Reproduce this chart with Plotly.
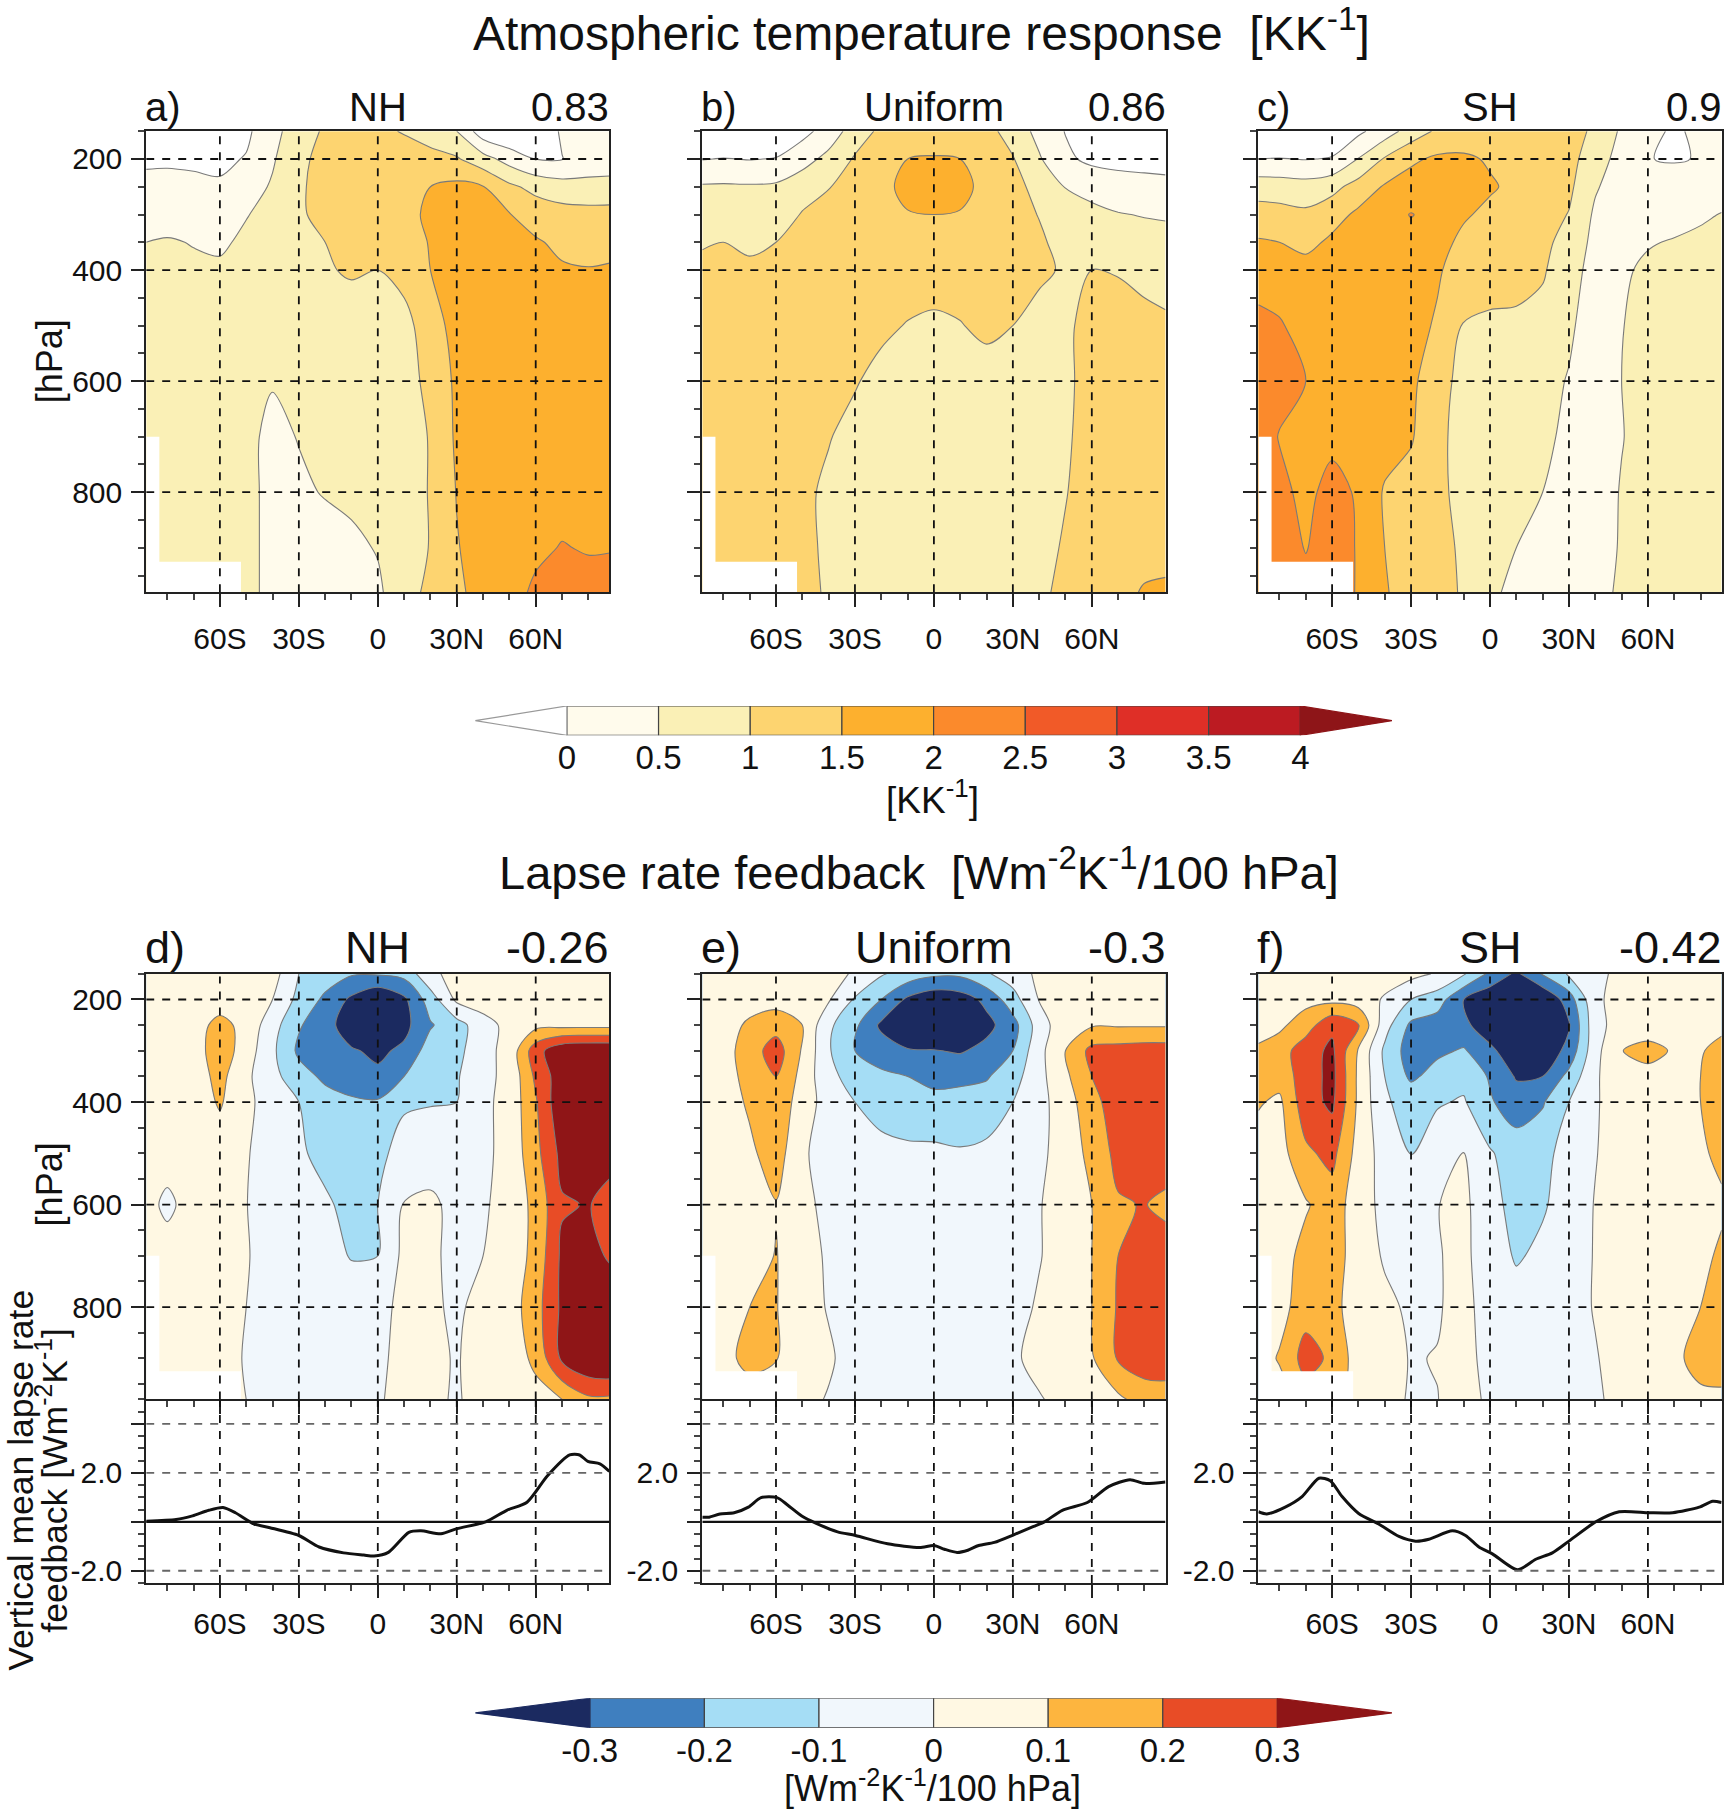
import plotly.graph_objects as go

W, H = 1725, 1813
FONT = "Liberation Sans"

LATS = [-88, -80, -70, -60, -50, -40, -30, -20, -10, 0, 10, 20, 30, 40, 50, 60, 70, 80, 88]
PRES = [150, 200, 250, 300, 350, 400, 500, 600, 700, 800, 900, 980]

TEMP_NH = [
    [-.6, -.6, -.5, -.35, -.1, .35, .75, 1.07, 1.2, 1.15, .95, .72, .5, -.3, -.5, -.3, .05, .2, .25],
    [-.12, -.1, -.12, -.1, .03, .45, .85, 1.2, 1.35, 1.4, 1.35, 1.2, 1.05, .7, .3, -.01, -.01, .12, .15],
    [.2, .2, .15, .06, .3, .55, .92, 1.2, 1.35, 1.4, 1.45, 1.5, 1.62, 1.52, 1.1, .85, .7, .7, .72],
    [.2, .2, .2, .3, .47, .7, .93, 1.15, 1.3, 1.35, 1.42, 1.55, 1.75, 1.7, 1.52, 1.3, 1.2, 1.15, 1.15],
    [.5, .56, .47, .4, .62, .78, .85, 1.0, 1.15, 1.2, 1.35, 1.52, 1.8, 1.85, 1.7, 1.55, 1.4, 1.35, 1.35],
    [.6, .65, .62, .6, .7, .8, .88, .95, 1.06, 1.0, 1.15, 1.5, 1.8, 1.9, 1.85, 1.65, 1.55, 1.52, 1.55],
    [.72, .72, .72, .72, .72, .72, .72, .72, .72, .72, .85, 1.25, 1.7, 1.85, 1.85, 1.8, 1.75, 1.75, 1.75],
    [.7, .7, .68, .65, .6, .53, .62, .7, .72, .78, .85, 1.1, 1.6, 1.8, 1.85, 1.85, 1.8, 1.78, 1.78],
    [.7, .68, .65, .62, .62, .38, .52, .62, .68, .72, .85, 1.02, 1.58, 1.78, 1.85, 1.85, 1.85, 1.85, 1.85],
    [.7, .68, .65, .62, .62, .38, .42, .53, .6, .68, .85, 1.02, 1.52, 1.75, 1.85, 1.85, 1.85, 1.85, 1.85],
    [.7, .68, .65, .62, .62, .38, .3, .3, .4, .53, .78, 1.02, 1.47, 1.72, 1.85, 1.92, 2.02, 1.97, 1.98],
    [.7, .68, .65, .62, .62, .38, .3, .3, .3, .42, .8, 1.12, 1.42, 1.65, 1.85, 2.07, 2.2, 2.15, 2.15],
]

TEMP_UNIFORM = [
    [-.6, -.6, -.5, -.35, -.15, .2, .75, 1.1, 1.3, 1.35, 1.3, 1.15, .8, .35, -.02, -.3, -.4, -.4, -.4],
    [-.02, .02, -.02, .02, .3, .65, 1.05, 1.3, 1.5, 1.52, 1.5, 1.3, 1.03, .55, .1, -.12, -.2, -.2, -.2],
    [.55, .56, .55, .58, .8, .98, 1.2, 1.4, 1.6, 1.65, 1.6, 1.4, 1.15, .85, .48, .37, .28, .2, .15],
    [.75, .77, .72, .75, 1.03, 1.15, 1.25, 1.35, 1.48, 1.5, 1.48, 1.35, 1.2, .98, .78, .6, .52, .48, .47],
    [.97, 1.0, .93, 1.0, 1.15, 1.25, 1.3, 1.3, 1.3, 1.35, 1.3, 1.25, 1.2, 1.08, .82, .72, .68, .65, .6],
    [1.08, 1.1, 1.07, 1.1, 1.2, 1.25, 1.3, 1.25, 1.2, 1.2, 1.2, 1.2, 1.15, 1.08, .95, 1.0, .97, .85, .8],
    [1.2, 1.2, 1.2, 1.2, 1.2, 1.2, 1.15, 1.08, .98, .92, .98, 1.1, 1.0, .85, .92, 1.15, 1.2, 1.15, 1.08],
    [1.25, 1.25, 1.25, 1.2, 1.15, 1.08, 1.03, .88, .8, .8, .8, .8, .8, .82, .92, 1.15, 1.25, 1.28, 1.3],
    [1.3, 1.3, 1.28, 1.2, 1.12, 1.02, .88, .8, .8, .8, .8, .8, .8, .85, .93, 1.2, 1.3, 1.3, 1.32],
    [1.3, 1.3, 1.28, 1.2, 1.08, .93, .8, .78, .78, .78, .78, .78, .78, .82, .98, 1.2, 1.3, 1.32, 1.32],
    [1.35, 1.35, 1.3, 1.22, 1.1, .93, .8, .78, .78, .78, .78, .78, .8, .85, 1.05, 1.2, 1.32, 1.38, 1.4],
    [1.35, 1.35, 1.3, 1.22, 1.12, .95, .8, .78, .78, .78, .78, .78, .8, .92, 1.1, 1.25, 1.4, 1.53, 1.55],
]

TEMP_SH = [
    [-.6, -.6, -.5, -.3, -.1, .25, .72, 1.08, 1.2, 1.3, 1.3, 1.25, 1.15, .93, .42, .2, -.1, .15, .2],
    [0.0, .02, -.02, .03, .52, 1.05, 1.42, 1.58, 1.58, 1.45, 1.38, 1.3, 1.15, .75, .3, .01, -.03, .02, .12],
    [.78, .75, .7, .85, 1.2, 1.55, 1.7, 1.75, 1.8, 1.55, 1.4, 1.3, 1.1, .55, .25, .2, .18, .2, .25],
    [1.2, 1.17, 1.1, 1.3, 1.6, 1.8, 2.02, 1.85, 1.55, 1.4, 1.3, 1.2, .98, .42, .25, .2, .25, .42, .52],
    [1.55, 1.5, 1.35, 1.6, 1.75, 1.85, 1.85, 1.65, 1.4, 1.3, 1.2, 1.1, .85, .35, .15, .45, .55, .62, .7],
    [1.75, 1.72, 1.7, 1.78, 1.85, 1.88, 1.8, 1.55, 1.3, 1.25, 1.15, 1.05, .72, .3, .4, .62, .7, .75, .8],
    [2.15, 2.05, 1.8, 1.75, 1.75, 1.75, 1.65, 1.45, .97, .9, .92, .85, .58, .25, .48, .68, .72, .75, .78],
    [2.3, 2.2, 2.0, 1.8, 1.75, 1.7, 1.62, 1.15, .88, .82, .75, .65, .47, .25, .5, .68, .72, .75, .78],
    [2.3, 1.97, 1.85, 1.85, 1.8, 1.7, 1.55, 1.1, .85, .78, .7, .6, .4, .25, .48, .68, .72, .75, .78],
    [2.3, 2.15, 1.85, 2.2, 1.93, 1.45, 1.3, 1.1, .87, .78, .68, .5, .25, .27, .53, .68, .72, .75, .78],
    [2.3, 2.3, 1.97, 2.3, 1.95, 1.5, 1.25, 1.1, .95, .72, .5, .2, .15, .25, .55, .7, .75, .75, .78],
    [2.3, 2.3, 2.2, 2.3, 1.95, 1.55, 1.25, 1.1, .97, .65, .3, .15, .15, .3, .6, .7, .75, .75, .78],
]

LAPSE_NH = [
    [.05, .05, .05, .05, .05, .04, -.1, -.15, -.19, -.19, -.17, -.02, .03, .05, .05, .04, .05, .05, .05],
    [.05, .05, .05, .05, .06, .0, -.13, -.22, -.32, -.4, -.32, -.15, .02, .05, .05, .05, .05, .05, .05],
    [.05, .05, .06, .13, .07, -.06, -.19, -.26, -.36, -.42, -.33, -.21, -.14, -.04, .03, .07, .07, .07, .07],
    [.05, .05, .05, .16, .05, -.08, -.22, -.26, -.29, -.32, -.28, -.15, -.13, -.03, .03, .26, .38, .4, .4],
    [.05, .05, .05, .13, .02, -.07, -.16, -.22, -.27, -.28, -.2, -.13, -.11, -.02, .02, .22, .36, .42, .42],
    [.05, .05, .05, .11, .03, -.06, -.1, -.16, -.18, -.19, -.11, -.105, -.1, -.02, .03, .19, .38, .42, .42],
    [.05, .04, .05, .05, .01, -.06, -.09, -.12, -.14, -.12, -.07, -.05, -.04, -.02, .03, .17, .33, .38, .33],
    [.03, -.02, .04, .05, .002, -.04, -.06, -.09, -.12, -.1, .005, .02, -.03, -.01, .03, .13, .29, .305, .27],
    [.05, .04, .05, .05, .005, -.03, -.05, -.07, -.105, -.1, .025, .02, -.03, .0, .04, .13, .32, .36, .28],
    [.05, .03, .05, .05, .0, -.03, -.05, -.05, -.05, -.03, .025, .01, -.01, .02, .05, .16, .32, .4, .42],
    [.05, .03, .05, .05, -.01, -.03, -.04, -.04, -.04, -.02, .03, .015, -.005, .03, .05, .12, .32, .4, .42],
    [.05, .03, .05, .05, .0, -.03, -.04, -.04, -.04, -.01, .03, .01, -.005, .02, .04, .07, .1, .18, .18],
]

LAPSE_UNIFORM = [
    [.05, .05, .05, .05, .05, .03, -.01, -.09, -.14, -.18, -.18, -.11, -.05, .02, .05, .05, .05, .05, .05],
    [.05, .05, .05, .06, .05, .01, -.11, -.2, -.32, -.37, -.35, -.275, -.14, .005, .05, .05, .05, .05, .05],
    [.05, .05, .12, .16, .1, -.08, -.18, -.32, -.4, -.42, -.4, -.33, -.24, -.05, .07, .09, .09, .09, .09],
    [.05, .06, .15, .25, .09, -.09, -.2, -.25, -.29, -.295, -.31, -.27, -.2, -.03, .1, .23, .24, .25, .25],
    [.05, .05, .14, .2, .07, -.08, -.13, -.18, -.2, -.23, -.22, -.21, -.14, -.03, .08, .2, .24, .25, .25],
    [.05, .05, .115, .16, .06, -.05, -.1, -.14, -.16, -.17, -.17, -.15, -.1, -.03, .05, .17, .25, .27, .27],
    [.05, .05, .08, .15, .01, -.03, -.06, -.07, -.08, -.08, -.09, -.08, -.06, -.02, .04, .13, .23, .27, .27],
    [.05, .05, .05, .095, .02, -.02, -.05, -.05, -.05, -.05, -.05, -.05, -.04, -.005, .04, .1, .19, .205, .17],
    [.05, .05, .05, .105, .03, -.01, -.05, -.05, -.05, -.05, -.05, -.05, -.04, -.005, .04, .1, .2, .26, .26],
    [.05, .05, .1, .105, .03, -.005, -.05, -.05, -.05, -.05, -.05, -.05, -.03, .01, .05, .1, .21, .26, .26],
    [.05, .07, .13, .105, .03, .01, -.03, -.05, -.05, -.05, -.05, -.05, -.01, .02, .05, .09, .21, .26, .26],
    [.05, .05, .05, .05, .02, -.005, -.04, -.05, -.05, -.05, -.05, -.05, -.04, -.005, .02, .05, .08, .14, .15],
]

LAPSE_SH = [
    [.05, .05, .05, .05, .05, .04, .03, -.01, -.09, -.22, -.32, -.19, -.09, -.03, .03, .05, .05, .05, .05],
    [.05, .05, .07, .07, .05, -.01, -.1, -.15, -.3, -.38, -.42, -.4, -.25, -.015, .03, .05, .05, .05, .05],
    [.05, .08, .15, .28, .205, -.06, -.22, -.25, -.27, -.38, -.45, -.45, -.31, -.03, .04, .05, .05, .06, .07],
    [.12, .15, .26, .32, .09, -.12, -.25, -.22, -.19, -.27, -.39, -.37, -.27, -.03, .098, .13, .09, .09, .14],
    [.12, .14, .25, .33, .08, -.1, -.22, -.16, -.13, -.21, -.31, -.3, -.17, -.01, .05, .07, .06, .1, .14],
    [.11, .08, .26, .32, .08, -.09, -.13, -.11, -.09, -.19, -.25, -.21, -.1, -.01, .05, .05, .05, .1, .14],
    [.05, .06, .18, .23, .06, -.04, -.105, -.04, .005, -.09, -.15, -.13, -.06, -.005, .05, .05, .05, .08, .13],
    [.05, .06, .09, .15, .05, -.03, -.05, -.002, .02, -.06, -.14, -.11, -.06, .005, .05, .05, .05, .05, .08],
    [.05, .06, .13, .15, .05, -.01, -.04, -.005, .02, -.05, -.11, -.08, -.04, .005, .05, .05, .05, .07, .12],
    [.05, .06, .16, .13, .05, .02, -.015, -.005, .02, -.03, -.06, -.05, -.03, .005, .05, .05, .05, .1, .16],
    [.05, .11, .24, .18, .05, .02, -.003, .002, .02, -.02, -.05, -.05, -.03, -.005, .03, .05, .07, .15, .17],
    [.05, .05, .15, .15, .05, .02, -.006, -.001, .02, -.01, -.04, -.05, -.03, -.015, .03, .05, .05, .07, .07],
]

# Zonal profiles of the vertically averaged lapse rate feedback
PROFILE_NH_LAT = [-88, -76.6, -70.4, -64.2, -58.8, -54.1, -47, -41, -30, -22.3, -13, -5.3, -1.4, 4, 11.8, 16.4, 24, 30.1, 41, 49, 56.7, 64.4, 72.9, 76.7, 79.8, 84.4, 88]
PROFILE_NH = [.02, .09, .24, .47, .58, .37, -.09, -.24, -.56, -1.03, -1.27, -1.36, -1.4, -1.25, -.43, -.37, -.49, -.28, 0, .47, .8, 1.87, 2.73, 2.73, 2.47, 2.37, 2.06]
PROFILE_UNIFORM_LAT = [-88, -85.4, -81.3, -75.9, -70.5, -65.7, -59.6, -55.6, -50.2, -44.7, -36.6, -29.8, -17.6, -5.4, 0, 4, 8.8, 12.9, 17, 23, 30.5, 37.9, 42, 48.8, 58.3, 66.4, 74.5, 79.9, 88]
PROFILE_UNIFORM = [.19, .19, .32, .37, .6, .99, .99, .69, .24, -.06, -.41, -.56, -.9, -1.05, -.97, -1.12, -1.25, -1.16, -.97, -.84, -.52, -.19, 0, .47, .79, 1.44, 1.72, 1.57, 1.63]
PROFILE_SH_LAT = [-88, -84.8, -77.8, -71.4, -65, -60.7, -56.2, -49.9, -42.3, -34.6, -28.3, -23.2, -14.3, -9.3, -4.2, .9, 10.4, 17.4, 23.7, 30, 40.2, 49.1, 60.5, 69.4, 79.5, 84.6, 88]
PROFILE_SH = [.41, .32, .6, 1.03, 1.78, 1.68, 1.03, .34, -.09, -.6, -.79, -.71, -.37, -.56, -1.03, -1.31, -1.96, -1.53, -1.27, -.79, 0, .41, .37, .37, .6, .84, .79]

# Outline of the region with no data near the Antarctic surface
MASK_LAT = [-88, -83, -83, -52, -52, -88, -88]
MASK_PRES = [700, 700, 925, 925, 980, 980, 700]

TEMP_LEVELS = [0, .5, 1, 1.5, 2, 2.5, 3, 3.5, 4]
TEMP_LABELS = ["0", "0.5", "1", "1.5", "2", "2.5", "3", "3.5", "4"]
TEMP_COLORS = ["#FFFFFF", "#FFFBEC", "#FAF0B6", "#FDD470", "#FDB02E", "#FB8A2C", "#F15A28", "#DF2F27", "#BC1B22", "#8E1518"]
LAPSE_LEVELS = [-.3, -.2, -.1, 0, .1, .2, .3]
LAPSE_LABELS = ["-0.3", "-0.2", "-0.1", "0", "0.1", "0.2", "0.3"]
LAPSE_COLORS = ["#1B2A60", "#3F7FBF", "#A5DDF5", "#F1F7FC", "#FFF8E3", "#FDB53F", "#E84C26", "#8F1517"]

LAT_TICKS = [-60, -30, 0, 30, 60]
LAT_LABELS = ["60S", "30S", "0", "30N", "60N"]
LAT_MINOR = [-80, -70, -50, -40, -20, -10, 10, 20, 40, 50, 70, 80]
PRES_TICKS = [200, 400, 600, 800]
PRES_MINOR = [150, 250, 300, 350, 450, 500, 550, 650, 700, 750, 850, 900, 950]
PROFILE_TICKS = [-2, 0, 2, 4]
PROFILE_LABELS = ["-2.0", "", "2.0", ""]
PROFILE_MINOR = [-2.5, -1.5, -1, -.5, .5, 1, 1.5, 2.5, 3, 3.5, 4.5, 5]

PANEL_LEFTS = [146.2, 702.3, 1258.4]
PANEL_WIDTH = 463.2
TOP_ROW = (131.5, 593.5)
BOTTOM_ROW = (976.0, 1402.5)
PROFILE_ROW = (1402.5, 1586.5)

fig = go.Figure()
axis_count = 0
shapes = []
annotations = []


def xfrac(px):
    return px / W


def yfrac(px):
    return 1 - px / H


def new_axes(left, right, top, bottom, xopts, yopts):
    global axis_count
    axis_count += 1
    n = axis_count
    xopts = dict(xopts, domain=[xfrac(left), xfrac(right)], anchor=f"y{n}")
    yopts = dict(yopts, domain=[yfrac(bottom), yfrac(top)], anchor=f"x{n}")
    fig.update_layout({f"xaxis{n}": xopts, f"yaxis{n}": yopts})
    return f"x{n}", f"y{n}"


def label(text, x, y, size, xanchor="center", angle=0):
    annotations.append(dict(text=text, x=xfrac(x), y=yfrac(y), xref="paper", yref="paper",
                            xanchor=xanchor, yanchor="middle", showarrow=False, textangle=angle,
                            font=dict(family=FONT, size=size, color="#111111")))


def lat_axis(with_labels, mirror=True, standoff=6):
    opts = dict(range=[-88, 88], tickmode="array", tickvals=LAT_TICKS, ticks="outside", ticklen=13,
                tickwidth=2, tickcolor="#222222", showgrid=False, zeroline=False, showline=True,
                linecolor="#222222", linewidth=2, mirror=mirror,
                minor=dict(tickmode="array", tickvals=LAT_MINOR, ticks="outside", ticklen=6,
                           tickwidth=1.5, tickcolor="#444444", showgrid=False),
                tickfont=dict(family=FONT, size=30, color="#111111"))
    if with_labels:
        opts.update(ticktext=LAT_LABELS, ticklabelstandoff=standoff)
    else:
        opts.update(showticklabels=False)
    return opts


def pres_axis(with_labels):
    opts = dict(range=[980, 150], tickmode="array", tickvals=PRES_TICKS, ticks="outside", ticklen=13,
                tickwidth=2, tickcolor="#222222", showgrid=False, zeroline=False, showline=True,
                linecolor="#222222", linewidth=2, mirror=True,
                minor=dict(tickmode="array", tickvals=PRES_MINOR, ticks="outside", ticklen=6,
                           tickwidth=1.5, tickcolor="#444444", showgrid=False),
                tickfont=dict(family=FONT, size=30, color="#111111"))
    if with_labels:
        opts.update(ticktext=[str(p) for p in PRES_TICKS], ticklabelstandoff=3)
    else:
        opts.update(showticklabels=False)
    return opts


def dashed(xa, ya, x0, x1, y0, y1, color="#111111"):
    shapes.append(dict(type="line", xref=xa, yref=ya, x0=x0, x1=x1, y0=y0, y1=y1, layer="above",
                       line=dict(color=color, width=1.8, dash="8px,8px")))


def contour_panel(left, row, z, levels, colors, with_pres, with_lats):
    xa, ya = new_axes(left, left + PANEL_WIDTH, row[0], row[1], lat_axis(with_lats), pres_axis(with_pres))
    step = levels[1] - levels[0]
    scale = [[i / (len(colors) - 1), c] for i, c in enumerate(colors)]
    fig.add_trace(go.Contour(x=LATS, y=PRES, z=z, xaxis=xa, yaxis=ya, colorscale=scale, showscale=False,
                             autocontour=False,
                             contours=dict(start=levels[0], end=levels[-1], size=step, coloring="fill"),
                             line=dict(color="#7a7a7a", width=1.1, smoothing=0.9), hoverinfo="skip"))
    fig.add_trace(go.Scatter(x=MASK_LAT, y=MASK_PRES, xaxis=xa, yaxis=ya, mode="none", fill="toself",
                             fillcolor="#FFFFFF", hoverinfo="skip"))
    for lat in LAT_TICKS:
        dashed(xa, ya, lat, lat, 980, 155)
    for p in PRES_TICKS:
        dashed(xa, ya, -88, 86, p, p)
    return xa, ya


def profile_panel(left, lats, values):
    yopts = dict(range=[-2.5, 5], tickmode="array", tickvals=PROFILE_TICKS, ticktext=PROFILE_LABELS,
                 ticks="outside", ticklen=13, tickwidth=2, tickcolor="#222222", showgrid=False,
                 zeroline=False, showline=True, linecolor="#222222", linewidth=2, mirror=True,
                 ticklabelstandoff=3, tickfont=dict(family=FONT, size=30, color="#111111"),
                 minor=dict(tickmode="array", tickvals=PROFILE_MINOR, ticks="outside", ticklen=6,
                            tickwidth=1.5, tickcolor="#444444", showgrid=False))
    xa, ya = new_axes(left, left + PANEL_WIDTH, PROFILE_ROW[0], PROFILE_ROW[1],
                      lat_axis(True, mirror=False, standoff=0), yopts)
    for lat in LAT_TICKS:
        dashed(xa, ya, lat, lat, -2.5, 5)
    for v in (-2, 2, 4):
        dashed(xa, ya, -88, 86, v, v, color="#666666")
    shapes.append(dict(type="line", xref=xa, yref=ya, x0=-88, x1=88, y0=0, y1=0, layer="above",
                       line=dict(color="#111111", width=2.2)))
    fig.add_trace(go.Scatter(x=lats, y=values, xaxis=xa, yaxis=ya, mode="lines", hoverinfo="skip",
                             line=dict(color="#111111", width=3, shape="spline", smoothing=0.7)))


def colour_bar(levels, texts, colors, left, right, top, bottom, first_outline):
    step = levels[1] - levels[0]
    xopts = dict(range=[levels[0] - step, levels[-1] + step], tickmode="array", tickvals=levels, ticktext=texts,
                 ticks="", showgrid=False, zeroline=False, showline=False, ticklabelstandoff=0,
                 tickfont=dict(family=FONT, size=33, color="#111111"))
    yopts = dict(range=[-.5, .5], visible=False)
    xa, ya = new_axes(left, right, top, bottom, xopts, yopts)
    for i in range(len(levels) - 1):
        fig.add_trace(go.Bar(x=[step], base=[levels[i]], y=[0], width=[1], orientation="h", xaxis=xa, yaxis=ya,
                             marker=dict(color=colors[i + 1], line=dict(color="#444444", width=1.2)),
                             hoverinfo="skip"))
    fig.add_trace(go.Scatter(x=[levels[0], levels[0] - step, levels[0], levels[0]], y=[.5, 0, -.5, .5],
                             xaxis=xa, yaxis=ya, mode="lines", fill="toself", fillcolor=colors[0],
                             line=dict(color=first_outline, width=1.2), cliponaxis=False, hoverinfo="skip"))
    fig.add_trace(go.Scatter(x=[levels[-1], levels[-1] + step, levels[-1], levels[-1]], y=[.5, 0, -.5, .5],
                             xaxis=xa, yaxis=ya, mode="lines", fill="toself", fillcolor=colors[-1],
                             line=dict(color=colors[-1], width=1.2), cliponaxis=False, hoverinfo="skip"))


# Upper row: temperature response
top_fields = [TEMP_NH, TEMP_UNIFORM, TEMP_SH]
for i, (left, z) in enumerate(zip(PANEL_LEFTS, top_fields)):
    contour_panel(left, TOP_ROW, z, TEMP_LEVELS, TEMP_COLORS, i == 0, True)

# Lower row: lapse rate feedback with its vertical mean underneath
bottom_fields = [LAPSE_NH, LAPSE_UNIFORM, LAPSE_SH]
profiles = [(PROFILE_NH_LAT, PROFILE_NH), (PROFILE_UNIFORM_LAT, PROFILE_UNIFORM), (PROFILE_SH_LAT, PROFILE_SH)]
for i, (left, z, prof) in enumerate(zip(PANEL_LEFTS, bottom_fields, profiles)):
    contour_panel(left, BOTTOM_ROW, z, LAPSE_LEVELS, LAPSE_COLORS, i == 0, False)
    profile_panel(left, prof[0], prof[1])

colour_bar(TEMP_LEVELS, TEMP_LABELS, TEMP_COLORS, 475.2, 1392, 707.5, 737, "#999999")
colour_bar(LAPSE_LEVELS, LAPSE_LABELS, LAPSE_COLORS, 475.2, 1392, 1702, 1731.5, "#1B2A60")

# Titles and panel headers
label("Atmospheric temperature response  [KK<sup>-1</sup>]", 921, 30, 48)
label("Lapse rate feedback  [Wm<sup>-2</sup>K<sup>-1</sup>/100 hPa]", 919, 871, 47)

top_heads = [("a)", "NH", "0.83"), ("b)", "Uniform", "0.86"), ("c)", "SH", "0.9")]
bottom_heads = [("d)", "NH", "-0.26"), ("e)", "Uniform", "-0.3"), ("f)", "SH", "-0.42")]
for left, (tag, name, value) in zip(PANEL_LEFTS, top_heads):
    label(tag, left - 3, 107, 40, "left")
    label(name, left + PANEL_WIDTH / 2, 107, 40)
    label(value, left + PANEL_WIDTH + 2, 107, 40, "right")
for left, (tag, name, value) in zip(PANEL_LEFTS, bottom_heads):
    label(tag, left - 3, 950, 45, "left")
    label(name, left + PANEL_WIDTH / 2, 950, 45)
    label(value, left + PANEL_WIDTH + 2, 950, 45, "right")

label("[hPa]", 49, 362, 36, angle=-90)
label("[hPa]", 49, 1187, 36, angle=-90)
label("Vertical mean lapse rate", 21, 1484, 35.5, angle=-90)
label("feedback [Wm<sup>-2</sup>K<sup>-1</sup>]", 53, 1484, 35.5, angle=-90)
label("[KK<sup>-1</sup>]", 933, 799, 37)
label("[Wm<sup>-2</sup>K<sup>-1</sup>/100 hPa]", 933, 1790, 36)

fig.update_layout(width=W, height=H, margin=dict(l=0, r=0, t=0, b=0), autosize=False, showlegend=False,
                  paper_bgcolor="white", plot_bgcolor="white", barmode="overlay",
                  font=dict(family=FONT), shapes=shapes, annotations=annotations)

fig.write_html("out.html")
